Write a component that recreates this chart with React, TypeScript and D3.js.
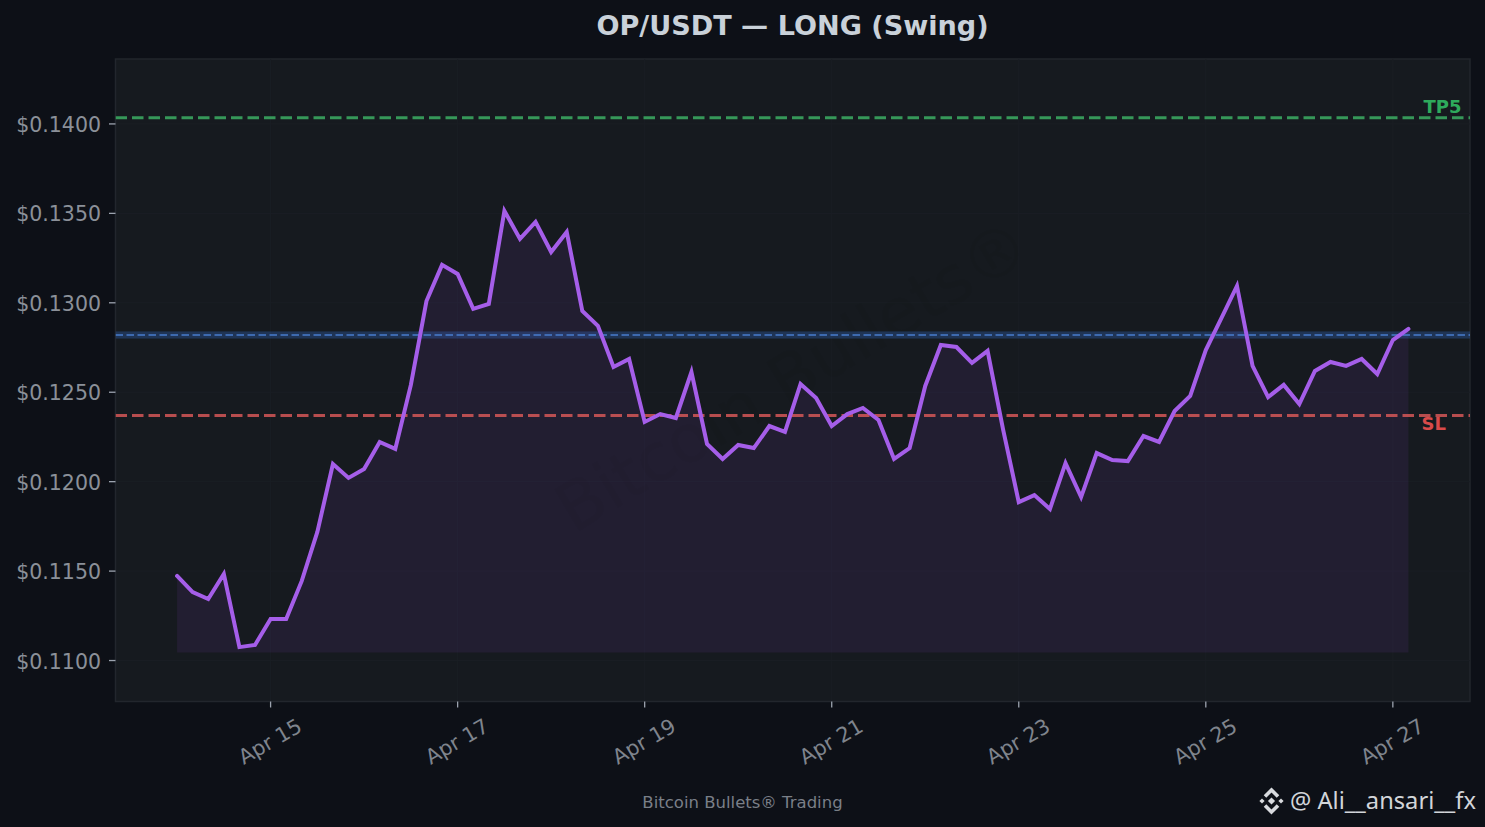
import React from "react";
import * as d3 from "d3";

const WIDTH = 1485;
const HEIGHT = 827;

const title = "OP/USDT — LONG (Swing)";
const footer = "Bitcoin Bullets® Trading";
const handle = "@ Ali__ansari__fx";
const watermark = "Bitcoin Bullets®";

const startTime = Date.UTC(2026, 3, 14, 0, 0);
const stepHours = 4;

const prices = [
  0.11473, 0.11383, 0.11344, 0.11484, 0.11075, 0.11087, 0.11232, 0.11232, 0.11445, 0.11719,
  0.12099, 0.12021, 0.12071, 0.12222, 0.12183, 0.12541, 0.1301, 0.13212, 0.13161, 0.12966,
  0.12994, 0.13514, 0.13357, 0.13452, 0.13284, 0.13396, 0.12954, 0.12871, 0.12641, 0.12686,
  0.12334, 0.12378, 0.12356, 0.12613, 0.12211, 0.12127, 0.12205, 0.12188, 0.12311, 0.12278,
  0.12546, 0.12468, 0.12311, 0.12378, 0.12412, 0.12345, 0.12127, 0.12188, 0.12535, 0.12764,
  0.12753, 0.12664, 0.12731, 0.12289, 0.11886, 0.11925, 0.11847, 0.12104, 0.11914, 0.1216,
  0.12121, 0.12115, 0.12255, 0.12222, 0.12395, 0.12479, 0.12736, 0.12915, 0.13094, 0.12647,
  0.12473, 0.12541, 0.12434, 0.12619, 0.12669, 0.12647, 0.12686, 0.12602, 0.12792, 0.12854,
];

const areaBase = 0.11045;
const yDomain = [0.10771, 0.14363];
const yTicks = [0.11, 0.115, 0.12, 0.125, 0.13, 0.135, 0.14];
const xTickDays = [15, 17, 19, 21, 23, 25, 27];

const levelTP5 = 0.14034;
const levelEntry = 0.1282;
const entryBand = [0.128, 0.1284];
const levelSL = 0.1237;

const FONT = "'DejaVu Sans', sans-serif";
const plot = { left: 115.5, right: 1470, top: 59, bottom: 701.5 };

const times = prices.map((_, i) => new Date(startTime + i * stepHours * 3600 * 1000));
const padTime = (times[times.length - 1].getTime() - times[0].getTime()) * 0.05;

const x = d3
  .scaleUtc()
  .domain([times[0].getTime() - padTime, times[times.length - 1].getTime() + padTime])
  .range([plot.left, plot.right]);
const y = d3.scaleLinear().domain(yDomain).range([plot.bottom, plot.top]);

const linePath = d3
  .line<number>()
  .x((_, i) => x(times[i]))
  .y((d) => y(d))(prices)!;
const areaPath = d3
  .area<number>()
  .x((_, i) => x(times[i]))
  .y0(y(areaBase))
  .y1((d) => y(d))(prices)!;

const xTicks = xTickDays.map((d) => new Date(Date.UTC(2026, 3, d)));
const fmtDate = d3.utcFormat("%b %d");
const fmtPrice = (v: number) => "$" + v.toFixed(4);

function Diamond({ cx, cy, r }: { cx: number; cy: number; r: number }) {
  return <path d={`M${cx} ${cy - r}L${cx + r} ${cy}L${cx} ${cy + r}L${cx - r} ${cy}Z`} fill="#d8dade" />;
}

function Chevron({ cx, cy, up }: { cx: number; cy: number; up: boolean }) {
  const s = up ? -1 : 1;
  return (
    <path
      d={`M${cx - 6.5} ${cy}L${cx} ${cy + s * 6.5}L${cx + 6.5} ${cy}`}
      fill="none"
      stroke="#d8dade"
      strokeWidth={3.6}
    />
  );
}

export default function App() {
  return (
    <svg
      width={WIDTH}
      height={HEIGHT}
      viewBox={`0 0 ${WIDTH} ${HEIGHT}`}
      style={{ position: "absolute", left: 0, top: 0, display: "block", fontFamily: FONT }}
    >
      <defs>
        <clipPath id="plot-clip">
          <rect x={plot.left} y={plot.top} width={plot.right - plot.left} height={plot.bottom - plot.top} />
        </clipPath>
      </defs>
      <rect width={WIDTH} height={HEIGHT} fill="#0d1017" />
      <rect
        x={plot.left}
        y={plot.top}
        width={plot.right - plot.left}
        height={plot.bottom - plot.top}
        fill="#161a1f"
        stroke="#22262d"
        strokeWidth={1.5}
      />
      <g stroke="#1a1e24" strokeWidth={1}>
        {xTicks.map((t) => (
          <line key={t.getTime()} x1={x(t)} x2={x(t)} y1={plot.top} y2={plot.bottom} />
        ))}
        {yTicks.map((t) => (
          <line key={t} x1={plot.left} x2={plot.right} y1={y(t)} y2={y(t)} />
        ))}
      </g>

      <text
        transform="translate(795 380) rotate(-31)"
        textAnchor="middle"
        dominantBaseline="middle"
        fontSize={66}
        fill="#000000"
        opacity={0.03}
      >
        {watermark}
      </text>

      <g clipPath="url(#plot-clip)">
        <path d={areaPath} fill="#a855f7" fillOpacity={0.085} />
        <rect
          x={plot.left}
          width={plot.right - plot.left}
          y={y(entryBand[1])}
          height={y(entryBand[0]) - y(entryBand[1])}
          fill="#3b82f6"
          fillOpacity={0.25}
        />
        <line x1={plot.left} x2={plot.right} y1={y(levelEntry)} y2={y(levelEntry)} stroke="#4a82d6" strokeOpacity={0.7} strokeWidth={1.8} strokeDasharray="7.5 3.5" />
        <line x1={plot.left} x2={plot.right} y1={y(levelTP5)} y2={y(levelTP5)} stroke="#3fb868" strokeOpacity={0.8} strokeWidth={3} strokeDasharray="11.5 5" />
        <line x1={plot.left} x2={plot.right} y1={y(levelSL)} y2={y(levelSL)} stroke="#e05a5a" strokeOpacity={0.8} strokeWidth={3} strokeDasharray="11.5 5" />
        <path d={linePath} fill="none" stroke="#a55ee9" strokeWidth={4} strokeLinejoin="miter" strokeLinecap="round" />
      </g>

      <text x={1461.5} y={y(levelTP5) - 5} textAnchor="end" fontSize={18} fontWeight={700} fill="#2eaa5c">
        TP5
      </text>
      <text x={1421.5} y={y(levelSL) + 14.5} fontSize={18} fontWeight={700} fill="#d94a4a">
        SL
      </text>

      {yTicks.map((t) => (
        <g key={t} transform={`translate(0 ${y(t)})`}>
          <line x1={109} x2={plot.left} stroke="#9ca3af" strokeWidth={1.3} />
          <text x={101} y={0.6} dy="0.36em" textAnchor="end" fontSize={20.5} fill="#8b9099">
            {fmtPrice(t)}
          </text>
        </g>
      ))}
      {xTicks.map((t) => (
        <g key={t.getTime()} transform={`translate(${x(t)} ${plot.bottom})`}>
          <line y1={0} y2={6} stroke="#9ca3af" strokeWidth={1.3} />
          <text
            transform="translate(0 41) rotate(-30)"
            textAnchor="middle"
            dominantBaseline="middle"
            fontSize={20.8}
            fill="#7f848d"
          >
            {fmtDate(t)}
          </text>
        </g>
      ))}

      <text x={792.5} y={35} textAnchor="middle" fontSize={27.1} fontWeight={700} fill="#c9d1d9">
        {title}
      </text>
      <text x={742.5} y={808} textAnchor="middle" fontSize={16.5} fill="#7a7f88">
        {footer}
      </text>

      <g>
        <Diamond cx={1271.5} cy={801} r={3.6} />
        <Diamond cx={1262} cy={801} r={2.6} />
        <Diamond cx={1281} cy={801} r={2.6} />
        <Chevron cx={1271.5} cy={796.5} up={true} />
        <Chevron cx={1271.5} cy={805.5} up={false} />
        <text x={1290} y={809} fontSize={23.7} fill="#d2d5d9" fontFamily="'Noto Sans', sans-serif">
          {handle}
        </text>
      </g>
    </svg>
  );
}
